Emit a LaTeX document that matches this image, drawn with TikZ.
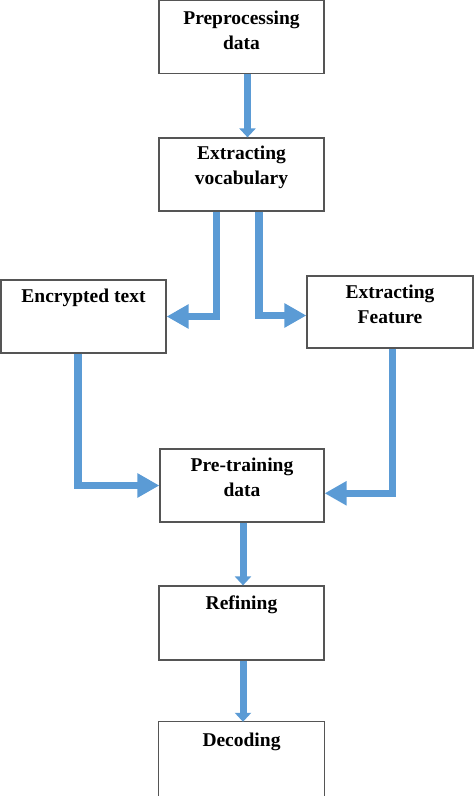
\documentclass[tikz,border=0pt]{standalone}
\usepackage{fontspec}
\setmainfont{Liberation Serif}
\usetikzlibrary{arrows.meta,calc}
\definecolor{flowblue}{HTML}{5B9BD5}
\definecolor{boxgray}{HTML}{555555}
\tikzset{
  boxnode/.style={rectangle,draw=boxgray,line width=1.2pt,minimum width=165pt,minimum height=73pt,inner sep=0pt,fill=white},
  boxline/.style={draw=boxgray,line width=1.2pt},
  txt/.style={anchor=base,inner sep=0pt,align=center,font=\fontsize{19.5}{25}\selectfont\bfseries},
  vflow/.style={draw=flowblue,line width=7pt,-{Triangle[width=16pt,length=9pt]}},
  lflow/.style={draw=flowblue,line width=7.5pt,line join=miter,-{Triangle[width=23pt,length=22pt]}}
}
\begin{document}
\begin{tikzpicture}[x=1pt,y=-1pt]
\useasboundingbox (0,0) rectangle (474,796);
% boxes
\node[boxnode] (pre) at (241.5,37) {};
\node[boxnode,minimum height=73pt] (voc) at (241.5,174.5) {};
\node[boxnode] (enc) at (83.5,316.5) {};
\node[boxnode,minimum width=166pt,minimum height=72pt] (feat) at (390,312) {};
\node[boxnode,minimum width=164pt] (ptr) at (242,485.5) {};
\node[boxnode,minimum height=74pt] (ref) at (241.5,623) {};
\node[rectangle,minimum width=165pt,minimum height=74pt,inner sep=0pt] (dec) at (241.5,759) {};
\draw[boxline] (dec.south west) -- (dec.north west) -- (dec.north east) -- (dec.south east);
% texts (base anchor = baseline of the last line)
\node[txt] (preT) at ($(pre.north)+(0,49.5)$) {Preprocessing\\data};
\node[txt] (vocT) at ($(voc.north)+(0,47.5)$) {Extracting\\vocabulary};
\node[txt] (encT) at ($(enc.north)+(0,23.3)$) {Encrypted text};
\node[txt] (featT) at ($(feat.north)+(0,47.7)$) {Extracting\\Feature};
\node[txt] (ptrT) at ($(ptr.north)+(0,48.3)$) {Pre-training\\data};
\node[txt] (refT) at ($(ref.north)+(0,24)$) {Refining};
\node[txt] (decT) at ($(dec.north)+(0,24.4)$) {Decoding};
% connectors
\draw[vflow] ([xshift=6pt]pre.south) -- ([xshift=6pt]voc.north);
\draw[lflow] ([xshift=-25.2pt]voc.south) |- (enc.east);
\draw[lflow] ([xshift=17.5pt]voc.south) |- ([yshift=-3.5pt]feat.west);
\draw[lflow] ([xshift=-5.5pt]enc.south) |- (ptr.west);
\draw[lflow] ([xshift=2.5pt]feat.south) |- ([yshift=-7.8pt]ptr.east);
\draw[vflow] ([xshift=1pt]ptr.south) -- ([xshift=1.5pt]ref.north);
\draw[vflow] ([xshift=1.5pt]ref.south) -- ([xshift=1.5pt]dec.north);
\end{tikzpicture}
\end{document}
